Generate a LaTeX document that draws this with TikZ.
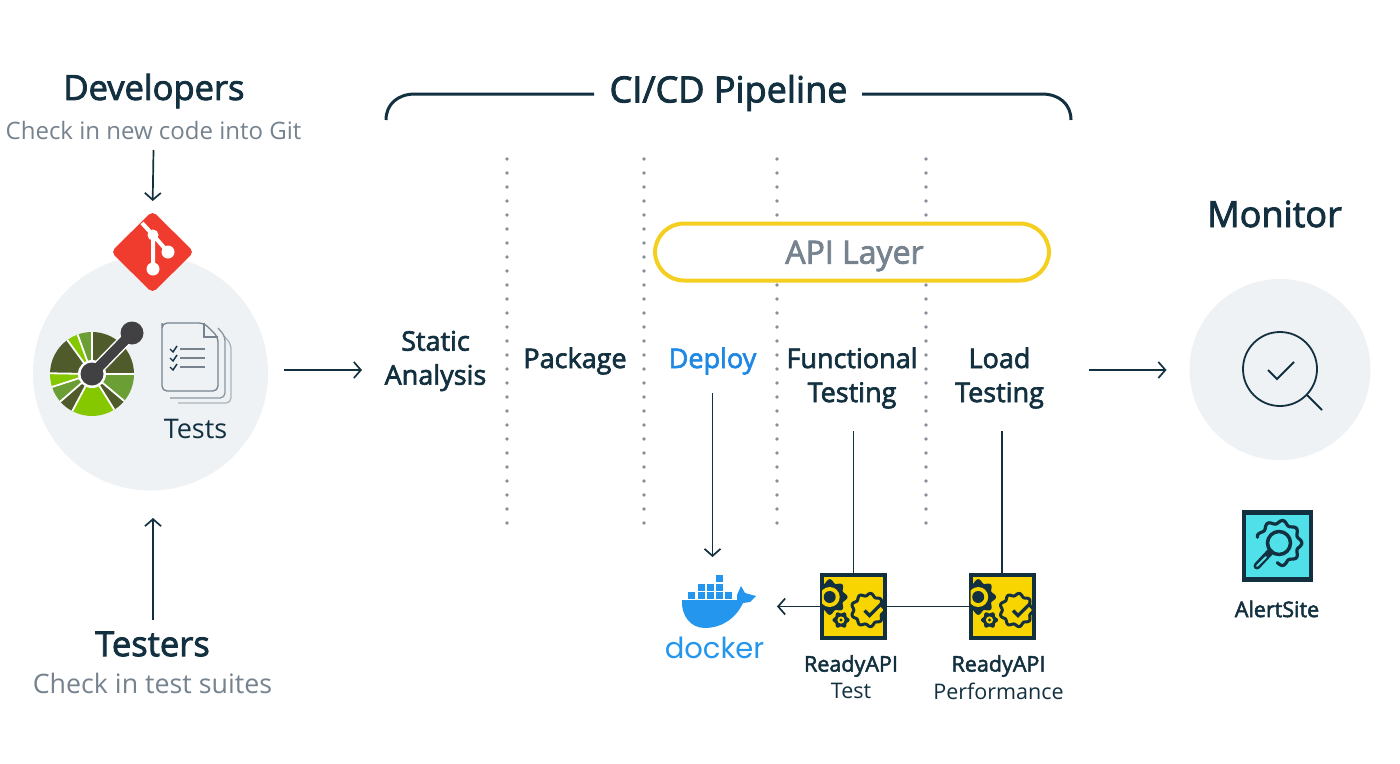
\documentclass[tikz,border=0pt]{standalone}
\usepackage{fontspec}
\setmainfont{Open Sans}
\newfontfamily\semi[FakeBold=2.4]{Open Sans}
\newfontfamily\dockerfont{Poppins}
\usetikzlibrary{arrows.meta,calc,shapes.geometric}
\definecolor{ink}{HTML}{12303F}
\definecolor{soft}{HTML}{76838F}
\definecolor{pale}{HTML}{EEF2F5}
\definecolor{apiy}{HTML}{F5CF1F}
\definecolor{ry}{HTML}{F8D500}
\definecolor{cyanb}{HTML}{4FE0EA}
\definecolor{dockb}{HTML}{2496ED}
\definecolor{deployb}{HTML}{1E88E5}
\definecolor{gitr}{HTML}{F03C2E}
\definecolor{oaD}{HTML}{4F5B2A}
\definecolor{oaM}{HTML}{6B9F35}
\definecolor{oaB}{HTML}{85C800}
\definecolor{hubc}{HTML}{414042}
\newcommand{\gearp}[3]{plot[domain=0:360,samples=121,smooth] ({(#1+#2*cos(#3*\x))*cos(\x)},{(#1+#2*cos(#3*\x))*sin(\x)}) -- cycle}
\newcommand{\oawedge}[3]{\fill[#3] (0,0) -- (#1:42) arc[start angle=#1,end angle=#2,radius=42] -- cycle;}
\tikzset{
 arr/.style={draw=ink,line width=1.7pt,-{Straight Barb[length=7pt,width=16pt,line width=1.7pt]}},
 plainline/.style={draw=ink,line width=1.7pt},
 lbl/.style={inner sep=0pt,outer sep=0pt,align=center,text=ink,font=\fontsize{27}{34}\selectfont\semi},
 head/.style={inner sep=0pt,outer sep=0pt,align=center,text=ink,font=\fontsize{34.5}{38}\selectfont\semi},
 subl/.style={inner sep=0pt,outer sep=0pt,align=center,text=soft,font=\fontsize{26.8}{32}\selectfont},
 small/.style={inner sep=0pt,outer sep=0pt,align=center,text=ink,font=\fontsize{21.5}{26}\selectfont},
 dots/.style={draw=soft!90,line width=3.6pt,line cap=round,dash pattern=on 0pt off 14pt},
 rbox/.style={draw=ink,fill=ry,line width=4pt,minimum size=63pt,inner sep=0pt,outer sep=0pt},
 pics/readyicon/.style={code={
  \begin{scope}[x=1pt,y=1pt]
   \clip (-31.5,-31.5) rectangle (31.5,31.5);
   \begin{scope}[shift={(-23.8,9.5)}]
    \fill[ink] \gearp{16}{1.8}{8};
    \fill[ry] (0,0) circle (10);
    \fill[ink] (0,0) circle (6);
   \end{scope}
   \begin{scope}[shift={(-12.5,-13.5)}]
    \fill[ink] \gearp{7.5}{1}{6};
    \fill[ry] (0,0) circle (3.6);
    \fill[ink] (0,0) circle (1.6);
   \end{scope}
   \begin{scope}[shift={(14.5,-3.5)}]
    \draw[ink,line width=3pt,fill=ry] \gearp{15.5}{1.3}{9};
   \end{scope}
   \draw[ink,line width=3.2pt] (11,-4) -- (16,-9) -- (28,3);
  \end{scope}
 }}
}
\begin{document}
\begin{tikzpicture}[x=1pt,y=-1pt]
\useasboundingbox (0,0) rectangle (1400,763);
\fill[white] (0,0) rectangle (1400,763);

% background discs
\node[circle,fill=pale,minimum size=235pt,inner sep=0pt,outer sep=0pt] (lc) at (150.5,373) {};
\node[circle,fill=pale,minimum size=181pt,inner sep=0pt,outer sep=0pt] (mon) at (1280,369.5) {};

% left heads
\node[head] (dev) at (154,91) {Developers};
\node[subl,minimum height=40pt,font=\fontsize{24}{30}\selectfont] (devsub) at (153.5,130) {Check in new code into Git};
\node[head] (tes) at (152.5,644) {Testers};
\node[subl] (tessub) at (152.5,683) {Check in test suites};

% git logo
\node[diamond,minimum size=78pt,inner sep=0pt,outer sep=0pt] (git) at (152.5,252) {};
\fill[gitr,rounded corners=5pt] (152.5,211) -- (194,252) -- (152.5,293) -- (111,252) -- cycle;
\draw[white,line width=4pt] (142,223) -- (153,235) -- (153,269) (153,235) -- (168,252);
\fill[white] (153,235) circle (5.5) (153,269) circle (6.5) (168,252) circle (6.5);

% OpenAPI logo
\begin{scope}[shift={(92,374)},x=1pt,y=1pt]
 \oawedge{90}{46}{oaD}
 \oawedge{40}{0}{oaD}
 \oawedge{0}{-40}{oaM}
 \oawedge{-40}{-58}{oaD}
 \oawedge{-58}{-118}{oaB}
 \oawedge{-118}{-139}{oaD}
 \oawedge{-139}{-162}{oaM}
 \oawedge{-162}{-181}{oaB}
 \oawedge{179}{126}{oaD}
 \oawedge{126}{110}{oaB}
 \oawedge{110}{90}{oaM}
 \foreach \ga in {90,0,-40,-58,-118,-139,-162,179,126,110}{
  \draw[white,line width=1.8pt] (\ga:10) -- (\ga:42);
 }
 \fill[white] (0,0) circle (14);
 \draw[white,line width=13pt] (0,0) -- (40,41);
 \draw[hubc,line width=10pt] (0,0) -- (40,41);
 \fill[hubc] (0,0) circle (11.5) (40,41) circle (11.5);
\end{scope}

% test documents
\begin{scope}[line width=1.3pt,rounded corners=5pt]
 \draw[soft!60] (224,336) -- (231,344) -- (231,403) -- (178,403);
 \draw[soft!85] (218,328) -- (225,336) -- (225,398) -- (170,398);
 \draw[soft,fill=pale] (162,328) |- (204,323) -- (218,337) -- (218,391) -- (162,391) -- cycle;
\end{scope}
\draw[soft,line width=1.2pt] (204,323) -- (204,337) -- (218,337);
\draw[soft,line width=1.2pt] (180,349) -- (205,349) (180,358) -- (205,358) (180,367) -- (205,367);
\draw[ink,line width=1.4pt] (170,349) -- (173,352) -- (177,346) (170,358) -- (173,361) -- (177,355) (170,367) -- (173,370) -- (177,364);
\node[lbl,font=\fontsize{27}{32}\selectfont] (tests) at (195.5,428.5) {Tests};

% dotted separators
\coordinate (d1a) at (507,159); \coordinate (d1b) at (507,524);
\coordinate (d2a) at (644,159); \coordinate (d2b) at (644,524);
\coordinate (d3a) at (777,159); \coordinate (d3b) at (777,524);
\coordinate (d4a) at (926,159); \coordinate (d4b) at (926,524);
\draw[dots] (d1a) -- (d1b);
\draw[dots] (d2a) -- (d2b);
\draw[dots] (d3a) -- (d3b);
\draw[dots] (d4a) -- (d4b);

% brace and title
\node[minimum width=268pt,minimum height=44pt,inner sep=0pt,outer sep=0pt] (cicd) at (728,94) {};
\node[inner sep=0pt,outer sep=0pt,text=ink,font=\fontsize{36}{40}\selectfont\semi] (cicdt) at (728.5,93) {CI/CD Pipeline};
\coordinate (bl) at (386,120);
\coordinate (br) at (1071,120);
\draw[ink,line width=3pt] (cicd.west) -- (415,94) .. controls (398,94) and (386,104) .. (bl);
\draw[ink,line width=3pt] (cicd.east) -- (1042,94) .. controls (1059,94) and (1071,104) .. (br);

% API layer
\node[draw=apiy,fill=white,line width=4pt,rounded corners=29pt,minimum width=394pt,minimum height=57pt,inner sep=0pt,outer sep=0pt] (api) at (852,252) {};
\node[inner sep=0pt,outer sep=0pt,text=soft,font=\fontsize{32}{36}\selectfont\semi] (apit) at (854.5,256) {API Layer};

% stage labels
\node[lbl] (static) at (435.5,361) {Static\\Analysis};
\node[lbl] (pack) at (575,361) {Package};
\node[lbl,text=deployb,minimum height=64pt] (deploy) at (712.5,361) {Deploy};
\node[lbl,minimum height=106pt] (func) at (852,378) {Functional\\Testing};
\node[lbl,minimum height=106pt] (load) at (999.5,378) {Load\\Testing};

% monitor
\node[inner sep=0pt,outer sep=0pt,text=ink,font=\fontsize{36}{40}\selectfont\semi] (montitle) at (1274.5,214) {Monitor};
\draw[ink,line width=1.8pt] (1280,369) circle (37);
\draw[ink,line width=1.8pt] (1307,395) -- (1322,410);
\draw[ink,line width=1.8pt] (1268,370) -- (1277,379) -- (1294,362);

% alertsite
\node[draw=ink,fill=cyanb,line width=4.5pt,minimum size=67pt,inner sep=0pt,outer sep=0pt] (alert) at (1277.5,546) {};
\begin{scope}[shift={(1279,543)},x=1pt,y=1pt]
 \draw[ink,line width=3.2pt,line cap=round] plot[domain=-95:165,samples=70,smooth] ({(21+1.8*cos(9*\x))*cos(\x)},{(21+1.8*cos(9*\x))*sin(\x)});
 \draw[ink,line width=3.5pt] (0,0) circle (11.5);
 \draw[ink,line width=7pt,line cap=round] (-9,-9) -- (-22,-23);
 \draw[cyanb,line width=2pt,line cap=round] (-13,-14) -- (-22,-23);
\end{scope}
\node[small,font=\fontsize{21.5}{26}\selectfont\semi] (alertl) at (1277,609) {AlertSite};

% docker
\node[minimum width=130pt,minimum height=120pt,inner sep=0pt,outer sep=0pt] (docker) at (712,617) {};
\fill[dockb] (682,600) -- (737,600) -- (737,595) -- (741,586) -- (745,593) -- (756,596) -- (750,602) -- (743,603) .. controls (735,620) and (720,628) .. (705,628) .. controls (690,628) and (681,615) .. (682,600) -- cycle;
\foreach \bx/\by in {688/592,697.5/592,707/592,716/592,725/592,697.5/584,707/584,716/584,716/575}{
 \fill[dockb] (\bx,\by) rectangle ++(7,6.5);
}
\node[inner sep=0pt,outer sep=0pt,text=dockb,font=\fontsize{29}{32}\selectfont\dockerfont] (dockertxt) at (714.5,648) {docker};

% ReadyAPI boxes
\node[rbox] (rt1) at (853.5,606.5) {};
\pic at (rt1) {readyicon};
\node[rbox] (rt2) at (1002,606.5) {};
\pic at (rt2) {readyicon};
\node[small,font=\fontsize{21.5}{26}\selectfont\semi] (rt1a) at (851,666) {ReadyAPI};
\node[small] (rt1b) at (851,691) {Test};
\node[small,font=\fontsize{21.5}{26}\selectfont\semi] (rt2a) at (998.5,666) {ReadyAPI};
\node[small] (rt2b) at (998.5,691) {Performance};

% connectors
\draw[arr,shorten >=12pt] (devsub.south) -- (git.north);
\coordinate (tesOut) at (153,620);
\coordinate (tesIn) at (153,518);
\draw[arr] (tesOut) -- (tesIn);
\coordinate (inA) at (362,370);
\draw[arr,shorten <=16pt] (lc.east |- inA) -- (inA);
\coordinate (outA) at (1089,370);
\draw[arr,shorten >=23pt] (outA) -- (mon.west |- outA);
\draw[arr] (deploy.south) -- (deploy.south |- docker.north);
\draw[plainline] (rt1.north |- func.south) -- (rt1.north);
\draw[plainline] (rt2.north |- load.south) -- (rt2.north);
\draw[arr] (rt1.west) -- (rt1.west -| docker.east);
\draw[plainline] (rt2.west) -- (rt1.east);
\end{tikzpicture}
\end{document}
